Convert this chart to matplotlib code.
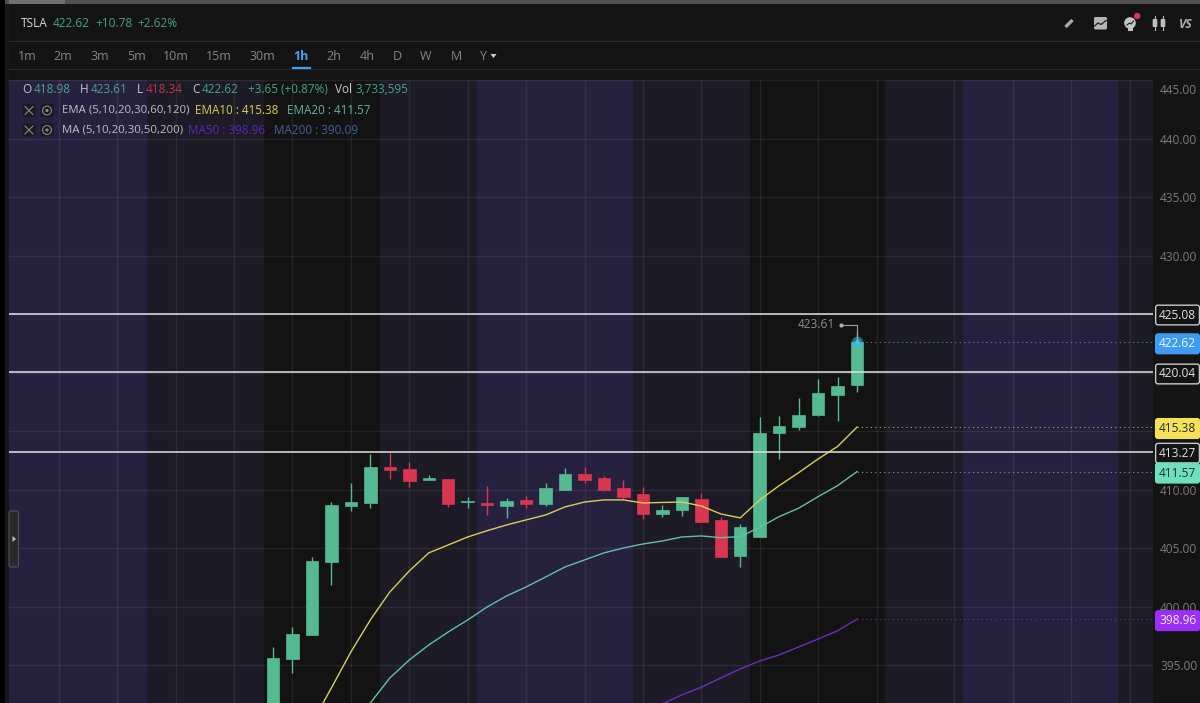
import matplotlib
matplotlib.use("Agg")
import matplotlib.pyplot as plt
from matplotlib.patches import Rectangle, FancyBboxPatch, Circle, Polygon

plt.rcParams['font.family'] = ['Open Sans', 'DejaVu Sans']

# Hourly TSLA candles, oldest first
opens  = [391.00,395.53,397.58,403.82,408.66,408.91,411.94,411.77,410.88,410.97,408.97,408.91,408.66,409.17,408.83,409.97,411.37,411.05,410.15,409.63,407.97,408.26,409.23,407.44,404.38,405.96,414.90,415.41,416.44,418.09,418.98]
highs  = [396.58,398.26,404.25,408.95,410.57,413.08,413.19,412.39,411.26,410.97,409.43,410.34,409.29,409.51,410.62,411.91,411.99,411.17,410.85,410.28,408.69,409.40,409.72,407.67,407.09,416.24,416.32,417.89,419.46,419.63,423.61]
lows   = [390.50,394.38,397.58,401.91,408.18,408.49,410.97,410.28,410.83,408.57,408.44,407.89,407.63,408.44,408.63,409.97,410.60,409.91,409.21,407.50,407.67,407.80,407.24,404.30,403.44,405.96,412.65,415.13,416.32,415.92,418.34]
closes = [395.62,397.67,403.91,408.74,409.00,411.94,411.68,410.79,411.05,408.83,409.03,408.74,409.09,408.83,410.15,411.37,410.85,410.03,409.36,407.92,408.32,409.40,407.24,404.30,406.86,414.90,415.47,416.44,418.26,418.91,422.62]

ema10_bars = list(range(2, 31))
ema10 = [390.09,393.08,396.15,398.89,401.28,403.08,404.62,405.30,405.98,406.52,407.01,407.44,407.86,408.55,408.97,409.15,409.15,408.89,408.93,408.97,408.63,407.95,407.61,409.15,410.37,411.48,412.65,413.72,415.38]
ema20_bars = list(range(4, 31))
ema20 = [390.26,391.79,393.93,395.47,396.75,397.86,398.89,400.00,400.94,401.71,402.56,403.42,404.02,404.62,405.04,405.38,405.64,405.98,406.07,405.92,406.01,406.81,407.72,408.44,409.43,410.37,411.57]
ma50_bars = list(range(20, 31))
ma50 = [391.71,392.48,393.14,393.93,394.70,395.38,395.90,396.58,397.26,397.97,398.96]

level_lines = [425.08, 420.04, 413.27]
last_price = 422.62
session_high = 423.61

y_ticks = [395, 400, 405, 410, 415, 420, 425, 430, 435, 440, 445]
y_labels = ['395.00', '400.00', '405.00', '410.00', '', '', '', '430.00', '435.00', '440.00', '']
grid_bars = [-11, -8, -5, -2, 1, 4, 7, 10, 13, 16, 19, 22, 25, 28, 31, 35, 38, 41, 44]

# Session shading: (start bar, end bar, kind)
sessions = [(-13.56, -6.47, 'ext'), (-6.47, -0.46, 'pre'), (-0.46, 5.5, 'reg'), (5.5, 10.48, 'pre'),
            (10.48, 18.49, 'ext'), (18.49, 24.5, 'pre'), (24.5, 31.43, 'reg'), (31.43, 35.44, 'pre'),
            (35.44, 43.4, 'ext'), (43.4, 45.2, 'pre')]
session_colors = {'ext': '#272140', 'pre': '#1c1b26', 'reg': '#131313'}

timeframes = ['1m', '2m', '3m', '5m', '10m', '15m', '30m', '1h', '2h', '4h', 'D', 'W', 'M', 'Y']
tab_centres = [27, 63, 100, 137, 176, 219, 262, 301, 334, 367, 397, 426, 456, 483]

GREEN = '#55ba91'
RED = '#d9364f'
YELLOW = '#d8cf55'
TEAL = '#62bfae'
PURPLE = '#6a2cc4'
PANEL = '#141414'
W, H = 1200, 703

fig = plt.figure(figsize=(W / 100, H / 100), dpi=100, facecolor=PANEL)

# Price pane
ax = fig.add_axes([9 / W, 0, (1153 - 9) / W, (703 - 80) / H], facecolor='#131313')
ax.set_xlim(-13.56, 45.2)
ax.set_ylim(391.79, 445.04)
for s in ax.spines.values():
    s.set_visible(False)

for a, b, kind in sessions:
    ax.axvspan(a, b, color=session_colors[kind], lw=0, zorder=0)
for b in grid_bars:
    ax.axvline(b, color='#ffffff', alpha=0.07, lw=1.0, zorder=1)
for p in y_ticks:
    ax.axhline(p, color='#ffffff', alpha=0.07, lw=1.0, zorder=1)

ax.set_xticks([])
ax.yaxis.tick_right()
ax.set_yticks(y_ticks, y_labels)
ax.tick_params(axis='y', length=0, pad=5, labelsize=8.6, labelcolor='#7c7c7c')
# The topmost label sits just inside the pane's upper edge
ax.annotate('445.00', xy=(1, 445), xycoords=ax.get_yaxis_transform(), xytext=(5, -7),
            textcoords='offset points', ha='left', va='center', fontsize=8.6, color='#7c7c7c',
            annotation_clip=False)

# Candles
for i, (o, h, l, c) in enumerate(zip(opens, highs, lows, closes)):
    col = GREEN if c >= o else RED
    ax.vlines(i, l, h, color=col, lw=1.0, zorder=3)
    ax.bar(i, abs(c - o), bottom=min(o, c), width=0.64, color=col, edgecolor=col, lw=0.5, zorder=4)

# Moving averages
ax.plot(ema10_bars, ema10, color=YELLOW, lw=1.0, zorder=5)
ax.plot(ema20_bars, ema20, color=TEAL, lw=1.0, zorder=5)
ax.plot(ma50_bars, ma50, color=PURPLE, lw=1.0, zorder=5)

# Horizontal levels and last-value leaders
for p in level_lines:
    ax.axhline(p, color='#dcdcdc', lw=1.15, zorder=6)
leaders = [(last_price, '#3d8fd8'), (ema10[-1], '#b5ab48'), (ema20[-1], '#55a896'), (ma50[-1], '#6a2cc4')]
for p, col in leaders:
    ax.plot([30, 45.2], [p, p], color=col, lw=0.8, ls=(0, (1, 3)), zorder=2)

# Marker on the latest bar and the high callout
ax.scatter([30], [last_price], s=70, color='#38b6e6', alpha=0.55, lw=0, zorder=7)
ax.scatter([30], [last_price + 0.02], s=14, color='#38c4ea', lw=0, zorder=7)
callout_y = session_high + 0.5
ax.plot([29.15, 30, 30], [callout_y, callout_y, last_price + 0.2], color='#a0a0a0', lw=0.8, zorder=7)
ax.scatter([29.15], [callout_y], s=9, color='#b5b5b5', lw=0, zorder=7)
ax.annotate(f'{session_high:.2f}', xy=(29.15, callout_y), xytext=(-4, 0), textcoords='offset points',
            ha='right', va='center', fontsize=8.6, color='#8e8e8e', zorder=7)

# Price tags on the axis
def tag(price, face, edge, text_color):
    ax.annotate(f'{price:.2f}', xy=(1, price), xycoords=ax.get_yaxis_transform(),
                xytext=(4.3, 0), textcoords='offset points', ha='left', va='center_baseline',
                fontsize=8.6, color=text_color, annotation_clip=False, zorder=10,
                bbox=dict(boxstyle='round,pad=0.28,rounding_size=0.2', fc=face, ec=edge, lw=1.0))

for p in level_lines:
    tag(p, '#141414', '#c9c9c9', '#e2e2e2')
tag(last_price, '#3f9cf3', '#3f9cf3', '#f2f7ff')
tag(ema10[-1], '#f6e25a', '#f6e25a', '#2a2a1a')
tag(ema20[-1], '#6fe0bd', '#6fe0bd', '#1f2f2a')
tag(ma50[-1], '#9a30f5', '#9a30f5', '#f4e9ff')

# Application chrome, laid out in screen pixels
ui = fig.add_axes([0, 0, 1, 1], facecolor='none', zorder=20)
ui.set_xlim(0, W)
ui.set_ylim(H, 0)
ui.axis('off')

ui.add_patch(Rectangle((0, 0), 5, H, color='#000000', lw=0))
ui.add_patch(Rectangle((5, 0), 4, H, color='#181818', lw=0))
ui.add_patch(Rectangle((5, 0), W - 5, 4, color='#505050', lw=0))
ui.add_patch(Rectangle((9, 0), 56, 4, color='#707070', lw=0))
for y in (41, 69):
    ui.plot([9, W], [y, y], color='#2a2a2a', lw=0.8)

def label(x, y, s, color, size=8.5, **kw):
    ui.text(x, y, s, color=color, fontsize=size, va='center', ha=kw.pop('ha', 'left'), **kw)

# Quote header
QUOTE = '#46a283'
label(21, 23.5, 'TSLA', '#d6d6d6', size=8.6)
label(53, 23.5, '422.62', QUOTE, size=8.6)
label(95, 23.5, '+10.78', QUOTE, size=8.6)
label(137, 23.5, '+2.62%', QUOTE, size=8.6)

# Timeframe tabs
for name, x in zip(timeframes, tab_centres):
    active = name == '1h'
    label(x, 56, name, '#4a9ff0' if active else '#868686', size=9.0, ha='center',
          fontweight='bold' if active else 'normal')
ui.plot([293, 310], [67.5, 67.5], color='#3f9cf3', lw=1.6)
ui.add_patch(Polygon([(490.5, 54), (496.5, 54), (493.5, 58)], color='#d0d0d0', lw=0))

# OHLC and indicator legend
VALUE = '#4a9f94'
label(22, 89.5, 'O', '#c8c8c8')
label(34, 89.5, '418.98', VALUE)
label(80, 89.5, 'H', '#c8c8c8')
label(91, 89.5, '423.61', VALUE)
label(137, 89.5, 'L', '#c8c8c8')
label(146, 89.5, '418.34', '#c2344f')
label(192, 89.5, 'C', '#c8c8c8')
label(202, 89.5, '422.62', VALUE)
label(248, 89.5, '+3.65 (+0.87%)', QUOTE)
label(335, 89.5, 'Vol', '#c8c8c8')
label(355, 89.5, '3,733,595', VALUE)

label(62, 110.5, 'EMA (5,10,20,30,60,120)', '#bdbdc4', size=8.2)
label(195, 110.5, 'EMA10 : 415.38', YELLOW, size=8.4)
label(287, 110.5, 'EMA20 : 411.57', '#5fb39b', size=8.4)
label(62, 130, 'MA (5,10,20,30,50,200)', '#bdbdc4', size=8.2)
label(188, 130, 'MA50 : 398.96', '#5a28b5', size=8.4)
label(274, 130, 'MA200 : 390.09', '#3f5f9f', size=8.4)

for yc in (110.5, 130):
    for xc in (29, 47):
        ui.add_patch(FancyBboxPatch((xc - 6.5, yc - 6.5), 13, 13, boxstyle='round,pad=0,rounding_size=1.5',
                                    fc='#1a1a1e', ec='none'))
    ui.plot([25, 33], [yc - 4, yc + 4], color='#8a8a8a', lw=0.8)
    ui.plot([25, 33], [yc + 4, yc - 4], color='#8a8a8a', lw=0.8)
    ui.add_patch(Circle((47, yc), 4.4, fc='none', ec='#8a8a8a', lw=0.8))
    ui.add_patch(Circle((47, yc), 1.6, fc='#8a8a8a', ec='none'))

# Toolbar icons
ui.plot([1065.5, 1072.5], [27, 20], color='#a8a8a8', lw=2.4, solid_capstyle='butt')
ui.add_patch(FancyBboxPatch((1094, 17), 13, 12.5, boxstyle='round,pad=0,rounding_size=1.5', fc='#b4b4b4', ec='none'))
ui.plot([1094.5, 1098, 1101, 1106], [26, 23, 24.5, 20.5], color='#1c1c1c', lw=0.9)
ui.add_patch(Circle((1130, 23), 5.8, fc='#c4c4c4', ec='none'))
ui.add_patch(Rectangle((1127.5, 28), 5, 2.5, color='#c4c4c4', lw=0))
ui.plot([1127, 1129.5, 1131, 1133.5], [25, 23, 24, 21], color='#1c1c1c', lw=0.8)
ui.add_patch(Circle((1137.2, 16), 3.2, fc='#d9364f', ec='none'))
for xc in (1155, 1163):
    ui.plot([xc, xc], [16, 30], color='#b8b8b8', lw=0.8)
    ui.add_patch(FancyBboxPatch((xc - 2.3, 19), 4.6, 8, boxstyle='round,pad=0,rounding_size=1', fc='#c4c4c4', ec='none'))
label(1186, 24, 'VS', '#b0b0b0', size=8.8, ha='center', fontweight='bold', fontstyle='italic')

# Collapse handle on the left edge
ui.add_patch(FancyBboxPatch((9, 511), 9.5, 56, boxstyle='round,pad=0,rounding_size=2', fc='#2a2a2a', ec='#50505a', lw=0.8))
ui.add_patch(Polygon([(12.5, 536), (12.5, 542), (16, 539)], color='#c0c0c0', lw=0))

fig.savefig('out.png', dpi=100, facecolor=PANEL)
